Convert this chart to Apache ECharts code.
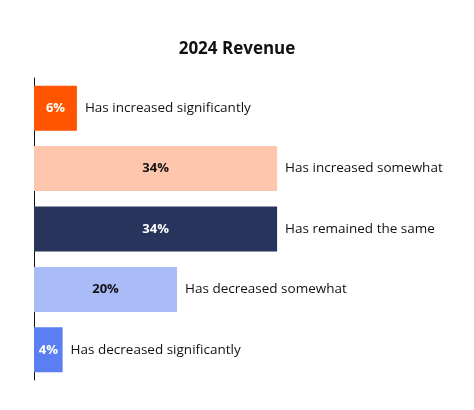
<!DOCTYPE html>
<html><head><meta charset="utf-8">
<script src="https://cdn.jsdelivr.net/npm/echarts@6/dist/echarts.min.js"></script>
<style>body{margin:0;background:#fff}#c{width:474px;height:410px}</style>
</head><body><div id="c"></div>
<script>
const categories = ["Has increased significantly","Has increased somewhat","Has remained the same","Has decreased somewhat","Has decreased significantly"];
const values = [6,34,34,20,4];
const colors = ["#FF5500","#FFC6AE","#28345C","#AABCF8","#5B7FF2"];
const labelColors = ["#fff","#111","#fff","#111","#fff"];
const chart = echarts.init(document.getElementById('c'));
chart.setOption({
  animation:false,
  title:{text:"2024 Revenue",left:'center',top:36,textStyle:{fontFamily:'Open Sans',fontSize:17,fontWeight:'bold',color:'#111'}},
  grid:{left:34,right:11,top:78,bottom:30},
  xAxis:{type:'value',min:0,max:60,show:false},
  yAxis:{type:'category',data:categories,inverse:true,axisLine:{show:true,lineStyle:{color:'#111',width:1}},axisTick:{show:false},axisLabel:{show:false}},
  series:[
    {type:'bar',barWidth:45,data:values.map((v,i)=>({value:v,itemStyle:{color:colors[i]},label:{color:labelColors[i]}})),
     label:{show:true,position:'inside',formatter:'{c}%',fontFamily:'Open Sans',fontSize:13,fontWeight:'bold'}},
    {type:'bar',barWidth:45,barGap:'-100%',data:values,itemStyle:{color:'transparent'},silent:true,
     label:{show:true,position:'right',distance:8,formatter:p=>categories[p.dataIndex],fontFamily:'Open Sans',fontSize:13.5,color:'#111'}}
  ]
});
</script></body></html>
